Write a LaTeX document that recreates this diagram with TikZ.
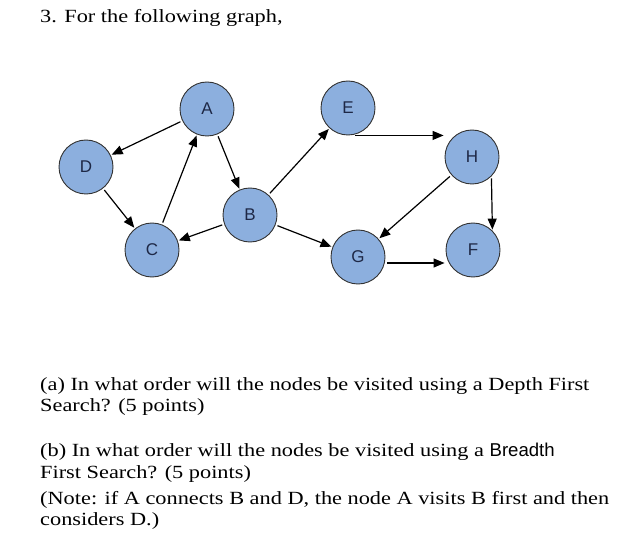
\documentclass[tikz,border=0pt]{standalone}
\usepackage{fontspec}
\setmainfont{Liberation Serif}[FakeStretch=1.2]
\newfontfamily\sansf{Liberation Sans}
\usetikzlibrary{arrows.meta}
\begin{document}
\begin{tikzpicture}[x=1pt,y=-1pt,
  vert/.style={circle,draw=black!80,line width=0.9pt,fill={rgb,255:red,140;green,175;blue,222},minimum size=54pt,inner sep=0pt,font=\sansf\fontsize{17}{17}\selectfont,text={rgb,255:red,30;green,40;blue,70}},
  edge/.style={-{Triangle[length=11pt,width=9pt]},line width=1.2pt,shorten >=1pt,shorten <=2pt},
  txt/.style={anchor=west,inner sep=0pt,font=\fontsize{18.6}{20}\selectfont}]
\useasboundingbox (0,0) rectangle (639,553);
\node[txt] (t0) at (40,18) {3. For the following graph,};
\node[vert] (A) at (207,109) {A};
\node[vert] (D) at (86,167) {D};
\node[vert] (C) at (152,250) {C};
\node[vert] (B) at (250,215) {B};
\node[vert] (E) at (348,108) {E};
\node[vert] (H) at (472,157) {H};
\node[vert] (G) at (358,257) {G};
\node[vert] (F) at (473,250) {F};
\path (E.south) ++(5,0) coordinate (e1);
\path (H.south east) coordinate (h1);
\path (G.east) ++(0,6) coordinate (g1);
\draw[edge] (A) -- (D);
\draw[edge] (A) -- (B);
\draw[edge] (D) -- (C);
\draw[edge] (C) -- (A);
\draw[edge] (B) -- (C);
\draw[edge] (B) -- (E);
\draw[edge] (B) -- (G);
\draw[edge] (e1) -- (H.west |- e1);
\draw[edge] (H) -- (G);
\draw[edge] (h1) -- (F.north east);
\draw[edge] (g1) -- (F.west |- g1);
\node[txt] (t1) at (40,386) {(a) In what order will the nodes be visited using a Depth First};
\node[txt] (t2) at (40,407) {Search? (5 points)};
\node[txt] (t3) at (40,452) {(b) In what order will the nodes be visited using a {\sansf Breadth}};
\node[txt] (t4) at (40,474) {First Search? (5 points)};
\node[txt] (t5) at (40,500) {(Note: if A connects B and D, the node A visits B first and then};
\node[txt] (t6) at (40,521) {considers D.)};
\end{tikzpicture}
\end{document}
